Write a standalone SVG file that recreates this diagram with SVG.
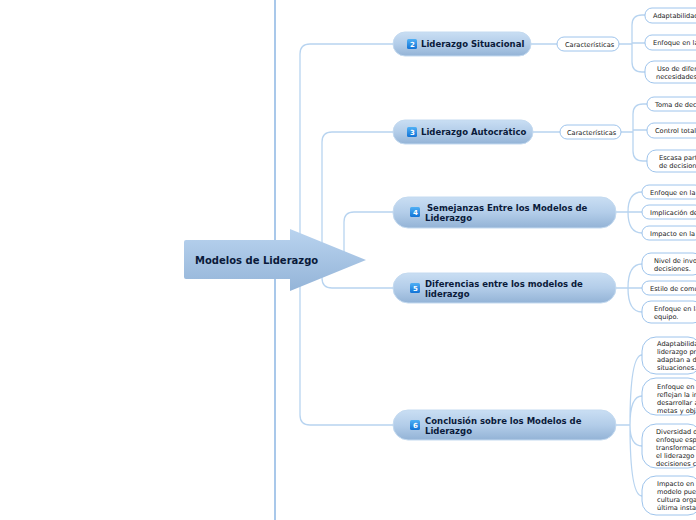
<svg xmlns="http://www.w3.org/2000/svg" width="696" height="520" viewBox="0 0 696 520">
<defs>
<linearGradient id="tg" x1="0" y1="0" x2="0" y2="1"><stop offset="0" stop-color="#c9def3"/><stop offset="0.5" stop-color="#b3cde9"/><stop offset="1" stop-color="#93b3d6"/></linearGradient>
<linearGradient id="cg" x1="0" y1="0" x2="0" y2="1"><stop offset="0" stop-color="#b9d3ef"/><stop offset="1" stop-color="#94b4d8"/></linearGradient>
<linearGradient id="ig" x1="0" y1="0" x2="0" y2="1"><stop offset="0" stop-color="#4fb0f5"/><stop offset="1" stop-color="#1273d6"/></linearGradient>
</defs>
<style>
.c{fill:none;stroke:#b8d4f0;stroke-width:1.3}
.t{fill:url(#tg);stroke:#c4daf0;stroke-width:1}
.tt{font-family:"DejaVu Sans",Verdana,sans-serif;font-size:8.5px;font-weight:bold;fill:#0a1a3a}
.l{fill:#fff;stroke:#9ec4ec;stroke-width:1}
.lt{font-family:"DejaVu Sans",Verdana,sans-serif;font-size:6.6px;fill:#222}
.ic{fill:url(#ig)}
.it{font-family:"DejaVu Sans",sans-serif;font-size:7px;font-weight:bold;fill:#fff}
</style>
<rect width="696" height="520" fill="#fff"/>
<line x1="275" y1="0" x2="275" y2="520" stroke="#a9c8ea" stroke-width="2"/>
<g id="connectors">
<path class="c" d="M300 260 L300 54 Q300 44 310 44 L393 44"/>
<path class="c" d="M300 260 L300 415 Q300 425 310 425 L393 425"/>
<path class="c" d="M322 260 L322 142 Q322 132 332 132 L393 132"/>
<path class="c" d="M322 260 L322 278 Q322 288 332 288 L393 288"/>
<path class="c" d="M344 260 L344 222 Q344 212 354 212 L393 212"/>
<path class="c" d="M531 44 L557 44 M619 44 L632 44 M632 44 L632 25 Q632 15 642 15 L645 15 M632 43 L645 43 M632 44 L632 62 Q632 72 642 72 L645 72"/>
<path class="c" d="M533 132 L560 132 M621 132 L633 132 M633 132 L633 114 Q633 104 643 104 L647 104 M633 130 L647 130 M633 132 L633 151 Q633 161 643 161 L647 161"/>
<path class="c" d="M616 212 L628 212 Q628 192 642 192 M628 212 L642 212 M628 212 Q628 233 642 233"/>
<path class="c" d="M616 288 L628 288 Q628 264 642 264 M628 288 L642 288 M628 288 Q628 312 642 312"/>
<path class="c" d="M616 425 L630 425 Q630 355 642 355 M630 425 Q630 396 642 396 M630 425 Q630 446 642 446 M630 425 Q630 496 642 496"/>
</g>
<g id="central">
<path d="M186 240 L290 240 L290 229 L366 260 L290 291 L290 279 L186 279 Q184 279 184 277 L184 242 Q184 240 186 240 Z" fill="url(#cg)"/>
<text x="195" y="264" font-family="DejaVu Sans,Verdana,sans-serif" font-size="10" font-weight="bold" fill="#0a1a3a">Modelos de Liderazgo</text>
</g>
<g id="n2"><rect class="t" x="393" y="32" width="138" height="24" rx="12"/><rect class="ic" x="407" y="39" width="10" height="10" rx="1.5"/><text class="it" x="410" y="47">2</text><text class="tt" x="421" y="47">Liderazgo Situacional</text></g>
<g id="n3"><rect class="t" x="393" y="120" width="140" height="24" rx="12"/><rect class="ic" x="407" y="127" width="10" height="10" rx="1.5"/><text class="it" x="410" y="135">3</text><text class="tt" x="421" y="135">Liderazgo Autocrático</text></g>
<g id="n4"><rect class="t" x="393" y="197" width="223" height="31" rx="15"/><rect class="ic" x="410" y="207" width="10" height="10" rx="1.5"/><text class="it" x="413" y="215">4</text><text class="tt" x="427" y="211"> Semejanzas Entre los Modelos de</text><text class="tt" x="425" y="221">Liderazgo</text></g>
<g id="n5"><rect class="t" x="393" y="273" width="223" height="30" rx="15"/><rect class="ic" x="410" y="283" width="10" height="10" rx="1.5"/><text class="it" x="413" y="291">5</text><text class="tt" x="425" y="287">Diferencias entre los modelos de</text><text class="tt" x="425" y="297">liderazgo</text></g>
<g id="n6"><rect class="t" x="393" y="410" width="223" height="30" rx="15"/><rect class="ic" x="410" y="420" width="10" height="10" rx="1.5"/><text class="it" x="413" y="428">6</text><text class="tt" x="425" y="424">Conclusión sobre los Modelos de</text><text class="tt" x="425" y="434">Liderazgo</text></g>
<g id="c2"><rect class="l" x="557" y="37" width="62" height="14" rx="7"/><text class="lt" x="565" y="47">Características</text></g>
<g id="c3"><rect class="l" x="560" y="125" width="61" height="14" rx="7"/><text class="lt" x="567" y="135">Características</text></g>
<g id="l21"><rect class="l" x="645" y="8" width="60" height="15" rx="7"/><text class="lt" x="653" y="18">Adaptabilidad</text></g>
<g id="l22"><rect class="l" x="645" y="35" width="60" height="15" rx="7"/><text class="lt" x="653" y="45">Enfoque en la</text></g>
<g id="l23"><rect class="l" x="645" y="61" width="60" height="22" rx="9"/><text class="lt" x="657" y="71">Uso de difer</text><text class="lt" x="656" y="79">necesidades</text></g>
<g id="l31"><rect class="l" x="647" y="97" width="60" height="14" rx="7"/><text class="lt" x="655" y="107">Toma de dec</text></g>
<g id="l32"><rect class="l" x="647" y="123" width="60" height="15" rx="7"/><text class="lt" x="655" y="133">Control total</text></g>
<g id="l33"><rect class="l" x="647" y="150" width="60" height="22" rx="9"/><text class="lt" x="659" y="160">Escasa part</text><text class="lt" x="659" y="168">de decision</text></g>
<g id="l41"><rect class="l" x="642" y="185" width="60" height="14" rx="7"/><text class="lt" x="650" y="195">Enfoque en la</text></g>
<g id="l42"><rect class="l" x="642" y="205" width="60" height="14" rx="7"/><text class="lt" x="650" y="215">Implicación de</text></g>
<g id="l43"><rect class="l" x="642" y="226" width="60" height="14" rx="7"/><text class="lt" x="650" y="236">Impacto en la</text></g>
<g id="l51"><rect class="l" x="642" y="253" width="60" height="22" rx="9"/><text class="lt" x="654" y="263">Nivel de invo</text><text class="lt" x="654" y="271">decisiones.</text></g>
<g id="l52"><rect class="l" x="642" y="281" width="60" height="14" rx="7"/><text class="lt" x="650" y="291">Estilo de comu</text></g>
<g id="l53"><rect class="l" x="642" y="301" width="60" height="22" rx="9"/><text class="lt" x="654" y="311">Enfoque en la</text><text class="lt" x="654" y="319">equipo.</text></g>
<g id="l61"><rect class="l" x="642" y="337" width="60" height="37" rx="14"/><text class="lt" x="657" y="346">Adaptabilida</text><text class="lt" x="657" y="354">liderazgo pr</text><text class="lt" x="657" y="362">adaptan a d</text><text class="lt" x="657" y="370">situaciones.</text></g>
<g id="l62"><rect class="l" x="642" y="378" width="60" height="37" rx="14"/><text class="lt" x="657" y="389">Enfoque en</text><text class="lt" x="657" y="397">reflejan la in</text><text class="lt" x="657" y="405">desarrollar a</text><text class="lt" x="657" y="413">metas y obj</text></g>
<g id="l63"><rect class="l" x="642" y="424" width="60" height="44" rx="14"/><text class="lt" x="656" y="434">Diversidad d</text><text class="lt" x="656" y="442">enfoque espe</text><text class="lt" x="656" y="450">transformaci</text><text class="lt" x="656" y="458">el liderazgo a</text><text class="lt" x="656" y="466">decisiones ce</text></g>
<g id="l64"><rect class="l" x="642" y="476" width="60" height="39" rx="14"/><text class="lt" x="657" y="486">Impacto en</text><text class="lt" x="657" y="494">modelo pue</text><text class="lt" x="657" y="502">cultura orga</text><text class="lt" x="657" y="510">última insta</text></g>
</svg>
